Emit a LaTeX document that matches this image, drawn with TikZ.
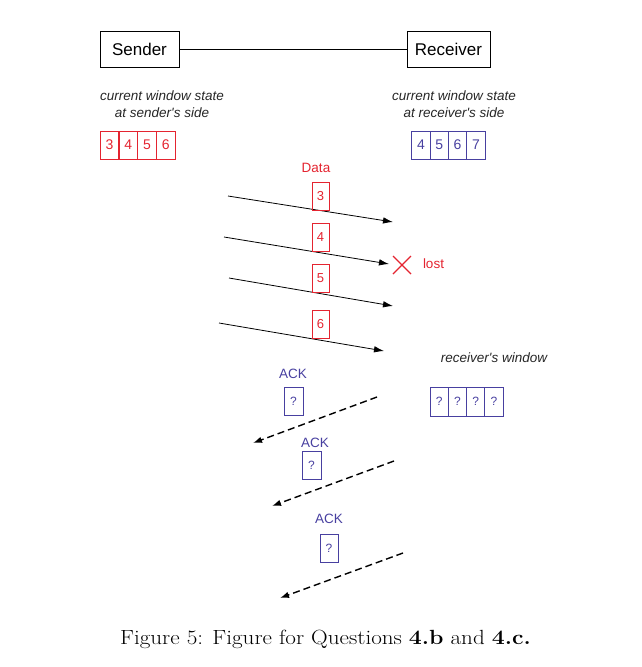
\documentclass[tikz,border=0pt]{standalone}
\usepackage{fontspec}
\newfontfamily\hv{Liberation Sans}
\usetikzlibrary{arrows.meta}
\definecolor{wred}{RGB}{228,36,48}
\definecolor{wblue}{RGB}{72,64,160}
\begin{document}
\begin{tikzpicture}[x=1pt,y=-1pt,
  every node/.style={inner sep=0pt, outer sep=0pt},
  party/.style={draw, line width=0.9pt, minimum height=36pt, font=\hv\fontsize{17}{20}\selectfont},
  note/.style={font=\hv\itshape\fontsize{13.5}{17}\selectfont, align=center, text=black!85},
  rcell/.style={draw=wred, text=wred, line width=0.8pt, minimum width=19pt, minimum height=28pt, font=\hv\fontsize{14}{14}\selectfont},
  bcell/.style={draw=wblue, text=wblue, line width=0.8pt, minimum width=18.5pt, minimum height=28pt, font=\hv\fontsize{14}{14}\selectfont},
  pkt/.style={draw=wred, text=wred, line width=0.8pt, minimum width=17pt, minimum height=28pt, font=\hv\fontsize{13}{13}\selectfont},
  ackbox/.style={draw=wblue, text=wblue, line width=0.8pt, minimum width=19pt, minimum height=28pt, font=\hv\fontsize{12}{12}\selectfont},
  qcell/.style={draw=wblue, text=wblue, line width=0.8pt, minimum width=18.25pt, minimum height=29pt, font=\hv\fontsize{12}{12}\selectfont},
  redlbl/.style={text=wred, font=\hv\fontsize{13.5}{14}\selectfont},
  bluelbl/.style={text=wblue, font=\hv\fontsize{13.5}{14}\selectfont},
  data/.style={line width=0.8pt, -{Latex[length=10pt,width=6.5pt]}},
  ack/.style={line width=1.4pt, dash pattern=on 7pt off 4pt, -{Latex[length=9pt,width=6.5pt]}}
]
\useasboundingbox (0,0) rectangle (642,667);

% parties
\node[party, minimum width=79pt] (sender) at (139.5,49) {Sender};
\node[party, minimum width=83pt] (receiver) at (448.5,49) {Receiver};
\draw[line width=0.8pt] (sender.east) -- (receiver.west);

% notes
\node[note] (snote) at (162,104) {current window state\\at sender's side};
\node[note] (rnote) at (454,104) {current window state\\at receiver's side};

% sender window
\node[rcell] (s3) at (109.6,145) {3};
\node[rcell] (s4) at (128.3,145) {4};
\node[rcell] (s5) at (147,145) {5};
\node[rcell] (s6) at (165.7,145) {6};

% receiver window
\node[bcell] (r4) at (421,145) {4};
\node[bcell] (r5) at (439.3,145) {5};
\node[bcell] (r6) at (457.6,145) {6};
\node[bcell] (r7) at (475.9,145) {7};

% data
\node[redlbl] (datalbl) at (316,168) {Data};

\coordinate (d1s) at (228,196); \coordinate (d1e) at (393,222);
\coordinate (d2s) at (224,237); \coordinate (d2e) at (389,264);
\coordinate (d3s) at (229,278); \coordinate (d3e) at (393,306);
\coordinate (d4s) at (219,323); \coordinate (d4e) at (384,351);
\draw[data] (d1s) -- (d1e);
\draw[data] (d2s) -- (d2e);
\draw[data] (d3s) -- (d3e);
\draw[data] (d4s) -- (d4e);

\node[pkt] (p3) at (320.5,196.5) {3};
\node[pkt] (p4) at (320.5,237) {4};
\node[pkt] (p5) at (320.5,278.5) {5};
\node[pkt] (p6) at (320.5,324.5) {6};

% lost
\coordinate (xc) at (402,265);
\draw[wred, line width=1.1pt] ([shift={(-9,-9)}]xc) -- ([shift={(9,9)}]xc)
  ([shift={(-9,9)}]xc) -- ([shift={(9,-9)}]xc);
\node[redlbl] (lost) at (433.5,264) {lost};

% receiver's window
\node[note, font=\hv\itshape\fontsize{13.5}{16}\selectfont] (rwin) at (494,358) {receiver's window};
\node[qcell] (q1) at (439.1,401.5) {?};
\node[qcell] (q2) at (457.4,401.5) {?};
\node[qcell] (q3) at (475.6,401.5) {?};
\node[qcell] (q4) at (493.9,401.5) {?};

% ACKs
\node[bluelbl] (ack1) at (293,374) {ACK};
\node[ackbox] (a1) at (293.5,401.5) {?};
\node[bluelbl] (ack2) at (315,443) {ACK};
\node[ackbox] (a2) at (311.5,465) {?};
\node[bluelbl] (ack3) at (329,519) {ACK};
\node[ackbox, minimum width=18pt] (a3) at (329,548) {?};

\coordinate (a1s) at (377,397); \coordinate (a1e) at (253,443);
\coordinate (a2s) at (394,461); \coordinate (a2e) at (272,506);
\coordinate (a3s) at (403,553); \coordinate (a3e) at (280,598);
\draw[ack] (a1s) -- (a1e);
\draw[ack] (a2s) -- (a2e);
\draw[ack] (a3s) -- (a3e);

% caption
\node[font=\fontsize{20.5}{24}\selectfont, anchor=base, xscale=1.127] (caption) at (325.5,644) {Figure 5: Figure for Questions \textbf{4.b} and \textbf{4.c.}};
\end{tikzpicture}
\end{document}
